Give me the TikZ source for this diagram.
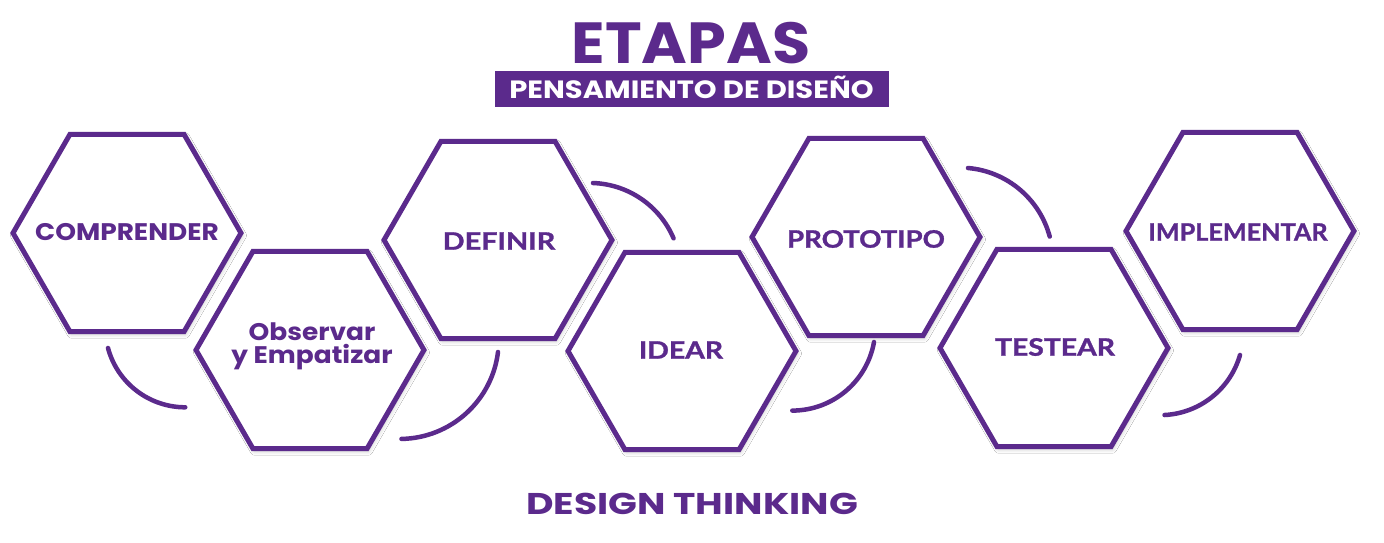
\documentclass[tikz,border=0pt]{standalone}
\usepackage{fontspec}
\setmainfont{Poppins}
\newfontfamily\gill{Lato}[BoldFeatures={FakeBold=1.2}]
\usetikzlibrary{shapes.geometric,shadows.blur}
\definecolor{purp}{HTML}{5B2A8C}
\newcommand{\wx}[2]{\scalebox{#1}[1]{#2}}
\begin{document}
\begin{tikzpicture}[x=1pt,y=-1pt,
  hexa/.style={regular polygon, regular polygon sides=6, minimum size=228pt,
    inner sep=0pt, draw=purp, line width=5pt, fill=white,
    blur shadow={shadow xshift=1.5pt, shadow yshift=-2.5pt, shadow blur radius=4pt, shadow opacity=22}},
  lab/.style={inner sep=0pt, text=purp, align=center},
  popf/.style={font=\bfseries\fontsize{24}{23}\selectfont},
  gillf/.style={font=\gill\bfseries\fontsize{24}{25}\selectfont},
  loopline/.style={draw=purp, line width=4.5pt, line cap=round}]
\useasboundingbox (0,0) rectangle (1384,542);
\fill[white] (0,0) rectangle (1384,542);

% title
\node[lab, font=\bfseries\fontsize{58}{58}\selectfont] (title) at (691,43) {\wx{1.07}{ETAPAS}};
\node[fill=purp, minimum width=394pt, minimum height=36pt, inner sep=0pt] (banner) at (692,89) {};
\node[inner sep=0pt, text=white, font=\bfseries\fontsize{25}{25}\selectfont] (subtitle) at (691.5,87.5) {\wx{1.16}{PENSAMIENTO DE DISEÑO}};

% hexagons
\node[hexa] (h1) at (127,233) {};
\node[hexa] (h2) at (310,350) {};
\node[hexa] (h3) at (498,240) {};
\node[hexa] (h4) at (682,351) {};
\node[hexa] (h5) at (866,237) {};
\node[hexa] (h6) at (1054,348) {};
\node[hexa] (h7) at (1240,231) {};

% labels
\node[lab, popf] (t1) at (127,232) {\wx{1.1}{COMPRENDER}};
\node[lab, popf] (t2) at (312,346) {\wx{1.1}{Observar}\\\wx{1.1}{y Empatizar}};
\node[lab, gillf] (t3) at (499,241) {\wx{1.2}{DEFINIR}};
\node[lab, gillf] (t4) at (681,350) {\wx{1.18}{IDEAR}};
\node[lab, gillf] (t5) at (866,239) {\wx{1.15}{PROTOTIPO}};
\node[lab, gillf] (t6) at (1055,347) {\wx{1.18}{TESTEAR}};
\node[lab, gillf] (t7) at (1238,232) {\wx{1.05}{IMPLEMENTAR}};

% arcs
\coordinate (a1) at (108,348);
\coordinate (a2) at (498,352);
\coordinate (a3) at (593,183);
\coordinate (a4) at (874,342);
\coordinate (a5) at (968,168);
\coordinate (a6) at (1240,355);
\draw[loopline] (a1) arc[start angle=165, end angle=90, radius=80];
\draw[loopline] (a2) arc[start angle=7, end angle=89, radius=99];
\draw[loopline] (a3) arc[start angle=-88, end angle=-23, radius=91];
\draw[loopline] (a4) arc[start angle=10, end angle=90, radius=83];
\draw[loopline] (a5) arc[start angle=-85, end angle=-15, radius=93];
\draw[loopline] (a6) arc[start angle=16, end angle=87, radius=83];

% footer
\node[lab, font=\bfseries\fontsize{30}{30}\selectfont] (footer) at (692,503.5) {\wx{1.26}{DESIGN THINKING}};
\end{tikzpicture}
\end{document}
